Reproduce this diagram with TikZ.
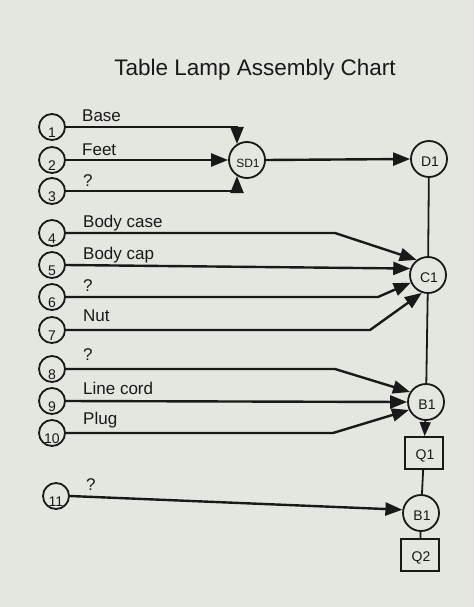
\documentclass[tikz,border=0pt]{standalone}
\usepackage{fontspec}
\setmainfont{Liberation Sans}
\usetikzlibrary{arrows.meta}
\definecolor{bg}{RGB}{228,230,224}
\definecolor{ink}{RGB}{25,25,25}
\begin{document}
\begin{tikzpicture}[x=1pt,y=-1pt,
  num/.style={circle,draw=ink,line width=1.8pt,minimum size=26pt,inner sep=0pt},
  numlab/.style={font=\fontsize{14}{14}\selectfont,yshift=-6pt,text=ink},
  opc/.style={circle,draw=ink,line width=1.8pt,minimum size=36pt,inner sep=0pt},
  box/.style={rectangle,draw=ink,line width=1.8pt,minimum width=38pt,minimum height=32pt,inner sep=0pt},
  olab/.style={font=\fontsize{14}{14}\selectfont,yshift=-3pt,xshift=1pt,text=ink},
  part/.style={anchor=west,font=\fontsize{17}{17}\selectfont,text=ink,inner sep=0pt,text height=12pt,text depth=3.5pt},
  flow/.style={draw=ink,line width=2.4pt},
  arr/.style={flow,-{Triangle[length=17pt,width=13pt]}}]
\useasboundingbox[fill=bg] (0,0) rectangle (474,607);
% title
\node[font=\fontsize{22.5}{22.5}\selectfont,text=ink] (title) at (255,70) {Table Lamp Assembly Chart};
% input circles
\node[num,label={[numlab]center:1}] (n1) at (52,127) {};
\node[num,label={[numlab]center:2}] (n2) at (52,160) {};
\node[num,label={[numlab]center:3}] (n3) at (52,191) {};
\node[num,label={[numlab]center:4}] (n4) at (52,233) {};
\node[num,label={[numlab]center:5}] (n5) at (52,265) {};
\node[num,label={[numlab]center:6}] (n6) at (52,297) {};
\node[num,label={[numlab]center:7}] (n7) at (52,330) {};
\node[num,label={[numlab]center:8}] (n8) at (52,369) {};
\node[num,label={[numlab]center:9}] (n9) at (52,401) {};
\node[num,label={[numlab]center:10}] (n10) at (52,433) {};
\node[num,label={[numlab]center:11}] (n11) at (56,496) {};
% part labels
\node[part] (l1) at (82,117) {Base};
\node[part] (l2) at (82,151) {Feet};
\node[part] (l3) at (83,182) {?};
\node[part] (l4) at (83,223) {Body case};
\node[part] (l5) at (83,255) {Body cap};
\node[part] (l6) at (83,287) {?};
\node[part] (l7) at (83,317) {Nut};
\node[part] (l8) at (83,356) {?};
\node[part] (l9) at (83,390) {Line cord};
\node[part] (l10) at (83,420) {Plug};
\node[part] (l11) at (86,486) {?};
% operations
\node[opc,label={[olab,font=\fontsize{12}{12}\selectfont]center:SD1}] (SD1) at (247,160) {};
\node[opc,label={[olab]center:D1}] (D1) at (429,159) {};
\node[opc,label={[olab]center:C1}] (C1) at (428,275) {};
\node[opc,label={[olab]center:B1}] (B1) at (426,402) {};
\node[box,label={[olab]center:Q1}] (Q1) at (424,453) {};
\node[opc,label={[olab]center:B1}] (B1b) at (421,513) {};
\node[box,label={[olab]center:Q2}] (Q2) at (420,555) {};
% bend points
\coordinate (b4) at (335,233);
\coordinate (b6) at (378,297);
\coordinate (b7) at (370,330);
\coordinate (b8) at (335,369);
\coordinate (b10) at (333,433);
% connectors into SD1
\draw[arr] (n1.east) -| (SD1.122);
\draw[arr] (n2.east) -- (SD1.west);
\draw[arr] (n3.east) -| (SD1.238);
\draw[arr] (SD1.east) -- (D1.west);
% into C1
\draw[arr] (n4.east) -- (b4) -- (C1.127);
\draw[arr] (n5.east) -- (C1.160);
\draw[arr] (n6.east) -- (b6) -- (C1.204);
\draw[arr] (n7.east) -- (b7) -- (C1.251);
% into B1
\draw[arr] (n8.east) -- (b8) -- (B1.148);
\draw[arr] (n9.east) -- (B1.180);
\draw[arr] (n10.east) -- (b10) -- (B1.205);
\draw[arr] (n11.east) -- (B1b.170);
% main chain
\draw[flow,line width=1.8pt] (D1) -- (C1);
\draw[flow,line width=1.8pt] (C1) -- (B1);
\draw[flow,line width=1.8pt,-{Triangle[length=14pt,width=11pt]}] (B1) -- (Q1);
\draw[flow,line width=1.8pt] (Q1) -- (B1b);
\draw[flow,line width=1.8pt] (B1b) -- (Q2);
\end{tikzpicture}
\end{document}
